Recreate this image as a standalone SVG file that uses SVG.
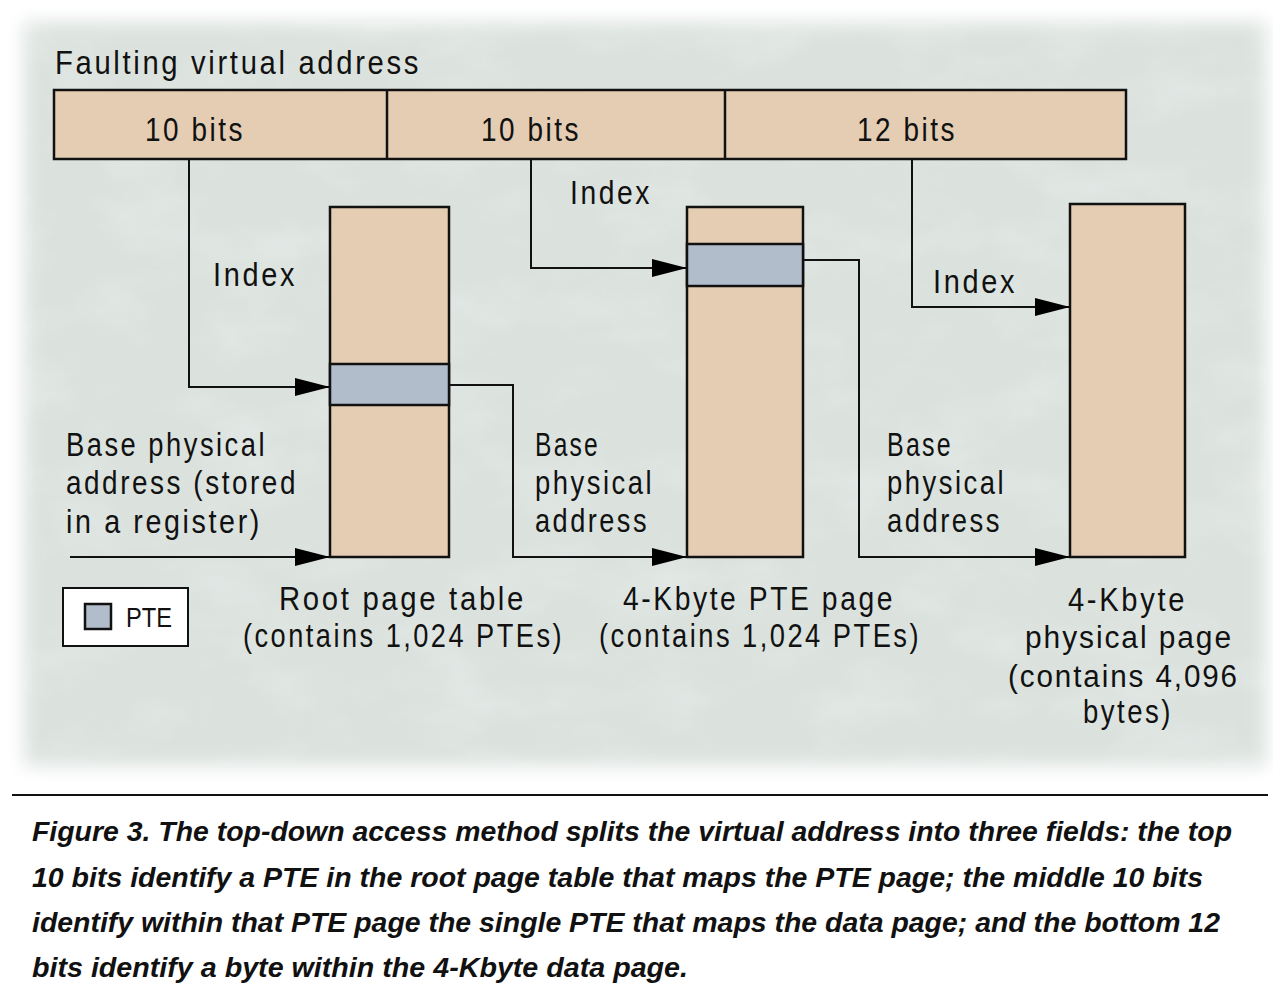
<svg xmlns="http://www.w3.org/2000/svg" width="1273" height="1000" viewBox="0 0 1273 1000">
<defs>
<style>
.lbl{font-family:"Liberation Sans","Noto Sans",sans-serif;font-size:33px;fill:#111;letter-spacing:3px}
.tight{font-size:31px;letter-spacing:2px}
.cap{font-family:"Liberation Sans",Arial,sans-serif;font-size:28px;font-weight:bold;font-style:italic;fill:#111}
.box{fill:#e4cdb2;stroke:#111;stroke-width:2.5}
.pte{fill:#b2bdcb;stroke:#111;stroke-width:2.5}
.con{fill:none;stroke:#111;stroke-width:2}
</style>
<marker id="arr" markerUnits="userSpaceOnUse" markerWidth="36" markerHeight="20" refX="35" refY="9" orient="auto">
<path d="M0,0 L35,9 L0,18 z" fill="#000"/>
</marker>
<filter id="soft" x="-5%" y="-5%" width="110%" height="110%"><feGaussianBlur stdDeviation="9"/></filter>
<filter id="noise" x="0" y="0" width="100%" height="100%">
<feTurbulence type="fractalNoise" baseFrequency="0.01 0.018" numOctaves="4" seed="7"/>
<feColorMatrix type="matrix" values="0 0 0 0 1  0 0 0 0 1  0 0 0 0 1  0 0 0 -1.4 0.8"/>
</filter>
</defs>
<rect width="1273" height="1000" fill="#fff"/>
<g id="background">
<rect x="24" y="22" width="1242" height="744" fill="#dbe2de" filter="url(#soft)"/>
<rect x="24" y="22" width="1242" height="744" filter="url(#noise)" opacity="0.28"/>
</g>

<g id="address">
<rect class="box" x="54" y="90" width="1072" height="69"/>
<line x1="387" y1="90" x2="387" y2="159" stroke="#111" stroke-width="2.5"/>
<line x1="725" y1="90" x2="725" y2="159" stroke="#111" stroke-width="2.5"/>
<text class="lbl" x="55" y="74" textLength="366" lengthAdjust="spacingAndGlyphs">Faulting virtual address</text>
<text class="lbl" x="145" y="141" textLength="100" lengthAdjust="spacingAndGlyphs">10 bits</text>
<text class="lbl" x="481" y="141" textLength="100" lengthAdjust="spacingAndGlyphs">10 bits</text>
<text class="lbl" x="857" y="141" textLength="100" lengthAdjust="spacingAndGlyphs">12 bits</text>
</g>

<g id="root-table">
<rect class="box" x="330" y="207" width="119" height="350"/>
<rect class="pte" x="330" y="364" width="119" height="41"/>
<text class="lbl" x="279" y="610" textLength="247" lengthAdjust="spacingAndGlyphs">Root page table</text>
<text class="lbl" x="243" y="647" textLength="321" lengthAdjust="spacingAndGlyphs">(contains 1,024 PTEs)</text>
</g>

<g id="pte-page">
<rect class="box" x="687" y="207" width="116" height="350"/>
<rect class="pte" x="687" y="244" width="116" height="42"/>
<text class="lbl" x="623" y="610" textLength="272" lengthAdjust="spacingAndGlyphs">4-Kbyte PTE page</text>
<text class="lbl" x="599" y="647" textLength="322" lengthAdjust="spacingAndGlyphs">(contains 1,024 PTEs)</text>
</g>

<g id="physical-page">
<rect class="box" x="1070" y="204" width="115" height="353"/>
<text class="lbl" x="1068" y="611" textLength="119" lengthAdjust="spacingAndGlyphs">4-Kbyte</text>
<text class="lbl tight" x="1025" y="648" textLength="208" lengthAdjust="spacingAndGlyphs">physical page</text>
<text class="lbl tight" x="1008" y="687" textLength="231" lengthAdjust="spacingAndGlyphs">(contains 4,096</text>
<text class="lbl" x="1083" y="723" textLength="90" lengthAdjust="spacingAndGlyphs">bytes)</text>
</g>

<g id="legend">
<rect x="63" y="588" width="125" height="58" fill="#fff" stroke="#111" stroke-width="2"/>
<rect class="pte" x="85" y="604" width="26" height="25" stroke-width="2"/>
<text x="126" y="627" font-family="Liberation Sans, sans-serif" font-size="28" fill="#111" textLength="46" lengthAdjust="spacingAndGlyphs">PTE</text>
</g>

<g id="connectors">
<polyline class="con" points="189,159 189,387 330,387" marker-end="url(#arr)"/>
<polyline class="con" points="70,557 330,557" marker-end="url(#arr)"/>
<polyline class="con" points="449,385 513,385 513,557 687,557" marker-end="url(#arr)"/>
<polyline class="con" points="531,159 531,268 687,268" marker-end="url(#arr)"/>
<polyline class="con" points="803,260 859,260 859,557 1070,557" marker-end="url(#arr)"/>
<polyline class="con" points="912,159 912,307 1070,307" marker-end="url(#arr)"/>
</g>

<g id="connector-labels">
<text class="lbl" x="213" y="286" textLength="84" lengthAdjust="spacingAndGlyphs">Index</text>
<text class="lbl" x="570" y="204" textLength="82" lengthAdjust="spacingAndGlyphs">Index</text>
<text class="lbl" x="933" y="293" textLength="84" lengthAdjust="spacingAndGlyphs">Index</text>
<text class="lbl" x="66" y="456" textLength="201" lengthAdjust="spacingAndGlyphs">Base physical</text>
<text class="lbl" x="66" y="494" textLength="232" lengthAdjust="spacingAndGlyphs">address (stored</text>
<text class="lbl" x="66" y="533" textLength="196" lengthAdjust="spacingAndGlyphs">in a register)</text>
<text class="lbl" x="535" y="456" textLength="65" lengthAdjust="spacingAndGlyphs">Base</text>
<text class="lbl" x="535" y="494" textLength="119" lengthAdjust="spacingAndGlyphs">physical</text>
<text class="lbl" x="535" y="532" textLength="114" lengthAdjust="spacingAndGlyphs">address</text>
<text class="lbl" x="887" y="456" textLength="66" lengthAdjust="spacingAndGlyphs">Base</text>
<text class="lbl" x="887" y="494" textLength="119" lengthAdjust="spacingAndGlyphs">physical</text>
<text class="lbl" x="887" y="532" textLength="115" lengthAdjust="spacingAndGlyphs">address</text>
</g>

<g id="caption">
<line x1="12" y1="795" x2="1268" y2="795" stroke="#111" stroke-width="2"/>
<text class="cap" x="32" y="841" textLength="1200" lengthAdjust="spacingAndGlyphs">Figure 3. The top-down access method splits the virtual address into three fields: the top</text>
<text class="cap" x="32" y="887" textLength="1171" lengthAdjust="spacingAndGlyphs">10 bits identify a PTE in the root page table that maps the PTE page; the middle 10 bits</text>
<text class="cap" x="32" y="932" textLength="1188" lengthAdjust="spacingAndGlyphs">identify within that PTE page the single PTE that maps the data page; and the bottom 12</text>
<text class="cap" x="32" y="977" textLength="656" lengthAdjust="spacingAndGlyphs">bits identify a byte within the 4-Kbyte data page.</text>
</g>
</svg>
